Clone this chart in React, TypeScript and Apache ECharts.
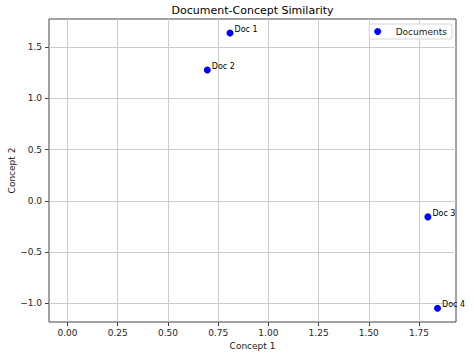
import React, { useEffect, useRef } from "react";
import * as echarts from "echarts";

const docNames = ["Doc 1", "Doc 2", "Doc 3", "Doc 4"];
const concept1 = [0.809, 0.696, 1.794, 1.842];
const concept2 = [1.64, 1.278, -0.156, -1.048];
const xTicks = [0, 0.25, 0.5, 0.75, 1.0, 1.25, 1.5, 1.75];
const yTicks = [-1.0, -0.5, 0.0, 0.5, 1.0, 1.5];

const FONT = "DejaVu Sans";

export default function App() {
  const ref = useRef<HTMLDivElement>(null);
  useEffect(() => {
    if (!ref.current) return;
    const chart = echarts.init(ref.current, undefined, { renderer: "svg" });
    const fmtY = (v: number) => (v < 0 ? "\u2212" : "") + Math.abs(v).toFixed(1);
    const fmtX = (v: number) => (v < 0 ? "\u2212" : "") + Math.abs(v).toFixed(2);
    chart.setOption({
      animation: false,
      backgroundColor: "#ffffff",
      textStyle: { fontFamily: FONT },
      graphic: [
        {
          type: "text",
          x: 252.6,
          y: 10,
          style: {
            text: "Document-Concept Similarity",
            fontFamily: FONT,
            fontSize: 11,
            fill: "#000",
            align: "center",
            verticalAlign: "middle",
          },
        },
      ],
      grid: {
        left: 49,
        right: 18,
        top: 19,
        bottom: 36,
        outerBoundsMode: "none",
        containLabel: false,
        show: true,
        borderColor: "#444",
        borderWidth: 1,
        backgroundColor: "transparent",
      },
      legend: {
        right: 22,
        top: 24,
        icon: "circle",
        itemWidth: 14,
        itemHeight: 7,
        padding: [3, 5],
        backgroundColor: "rgba(255,255,255,0.85)",
        borderColor: "#d6d6d6",
        borderWidth: 1,
        borderRadius: 2,
        textStyle: { fontFamily: FONT, fontSize: 9, color: "#222", padding: [0, 0, 0, 6] },
        data: ["Documents"],
      },
      xAxis: {
        type: "value",
        min: -0.0921,
        max: 1.934,
        name: "Concept 1",
        nameLocation: "middle",
        nameGap: 19,
        nameMoveOverlap: false,
        nameTextStyle: { fontFamily: FONT, fontSize: 9, color: "#222" },
        axisLine: { show: false, onZero: false },
        axisTick: { show: true, length: 4, customValues: xTicks, lineStyle: { color: "#444" } },
        axisLabel: { customValues: xTicks, formatter: fmtX, fontFamily: FONT, fontSize: 9, color: "#262626", margin: 6 },
        splitLine: { show: true, lineStyle: { color: "#cdcdcd", width: 1 } },
      },
      yAxis: {
        type: "value",
        min: -1.182,
        max: 1.776,
        name: "Concept 2",
        nameLocation: "middle",
        nameGap: 33,
        nameMoveOverlap: false,
        nameTextStyle: { fontFamily: FONT, fontSize: 9, color: "#222" },
        axisLine: { show: false, onZero: false },
        axisTick: { show: true, length: 4, customValues: yTicks, lineStyle: { color: "#444" } },
        axisLabel: { customValues: yTicks, formatter: fmtY, fontFamily: FONT, fontSize: 9, color: "#262626", margin: 7 },
        splitLine: { show: true, lineStyle: { color: "#cdcdcd", width: 1 } },
      },
      series: [
        {
          name: "Documents",
          type: "scatter",
          symbol: "circle",
          symbolSize: 7,
          itemStyle: { color: "#0000ff", opacity: 1 },
          label: {
            show: true,
            formatter: "{b}",
            position: "right",
            distance: 1,
            offset: [0, -3.5],
            fontFamily: FONT,
            fontSize: 8,
            color: "#000",
          },
          data: docNames.map((n, i) => ({ name: n, value: [concept1[i], concept2[i]] })),
        },
      ],
    });
    return () => chart.dispose();
  }, []);
  return (
    <div
      ref={ref}
      style={{ position: "absolute", left: 0, top: 0, width: 474, height: 358 }}
    />
  );
}
